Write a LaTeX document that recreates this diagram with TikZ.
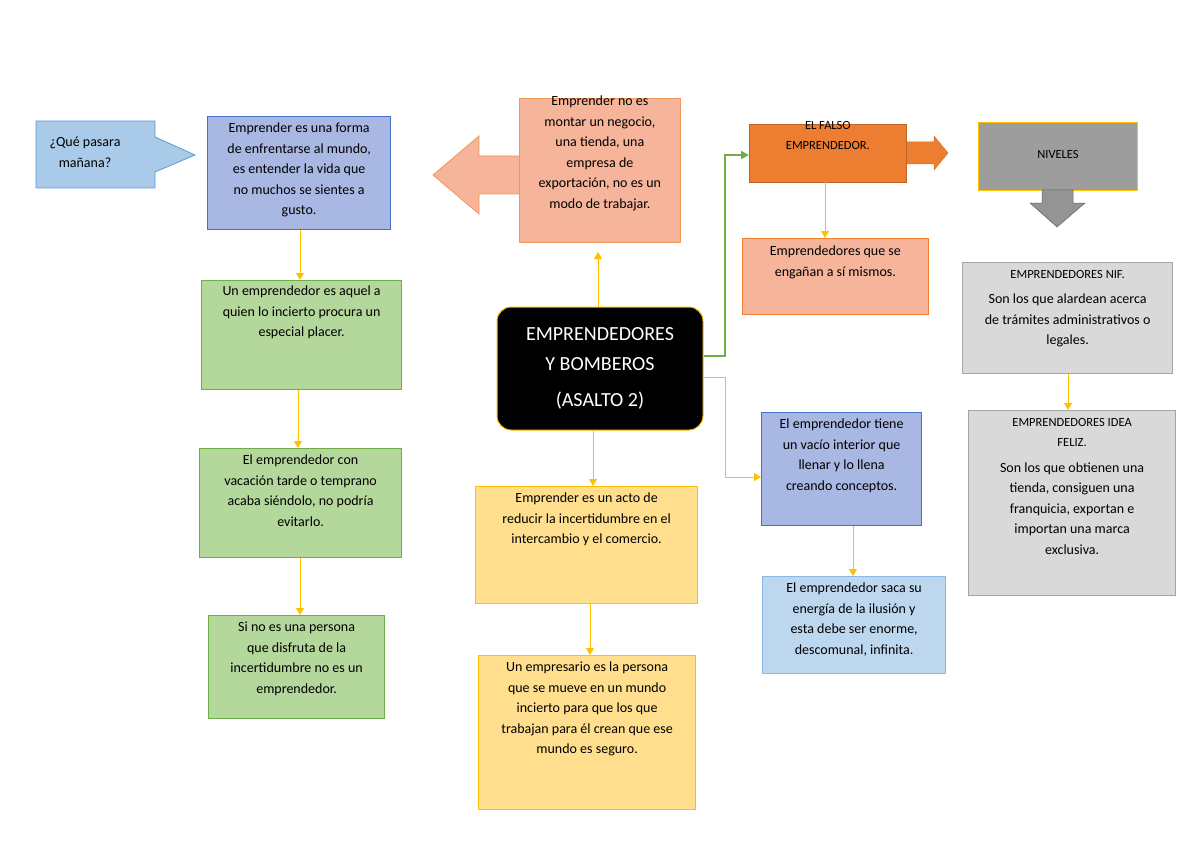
\documentclass[tikz,border=0pt]{standalone}
\usepackage{fontspec}
\setmainfont{Carlito}
\usetikzlibrary{arrows.meta}
\definecolor{ya}{HTML}{FFC000}
\definecolor{bluef}{HTML}{A9B8E2}\definecolor{bluee}{HTML}{4472C4}
\definecolor{greenf}{HTML}{B4D79C}\definecolor{greene}{HTML}{70AD47}
\definecolor{salf}{HTML}{F6B49A}\definecolor{sale}{HTML}{ED7D31}
\definecolor{yelf}{HTML}{FFDF8E}
\definecolor{lbf}{HTML}{BDD7EE}\definecolor{lbe}{HTML}{5B9BD5}
\definecolor{grf}{HTML}{D9D9D9}\definecolor{gre}{HTML}{A5A5A5}
\begin{document}
\begin{tikzpicture}[x=1pt,y=-1pt,
 txt/.style={align=center,font=\fontsize{14}{20.5}\selectfont,anchor=north,inner sep=0pt},
 box/.style={draw,line width=1.2pt,anchor=north west,inner sep=0pt},
 yar/.style={draw=ya,-{Triangle[length=7pt,width=8pt]},line width=1pt}]
\useasboundingbox (0,0) rectangle (1200,848);
% question arrow
\filldraw[fill=lbf!80!lbe,draw=lbe,line width=0.8pt] (36,121)--(155,121)--(155,137)--(195,155)--(155,172)--(155,188)--(36,188)--cycle;
\node[txt] (q) at (85,137) {¿Qué pasara\\mañana?};
% blue box 1
\node[box,fill=bluef,draw=bluee,minimum width=183pt,minimum height=113pt] (b1) at (207,116) {};
\node[txt] (t1) at (b1.north |- 0,123) {Emprender es una forma\\de enfrentarse al mundo,\\es entender la vida que\\no muchos se sientes a\\gusto.};
\node[box,fill=greenf,draw=greene,minimum width=200pt,minimum height=109pt] (g1) at (201,280) {};
\node[txt] at (g1.north |- 0,286) {Un emprendedor es aquel a\\quien lo incierto procura un\\especial placer.};
\node[box,fill=greenf,draw=greene,minimum width=202pt,minimum height=109pt] (g2) at (199,448) {};
\node[txt] at (g2.north |- 0,455) {El emprendedor con\\vacación tarde o temprano\\acaba siéndolo, no podría\\evitarlo.};
\node[box,fill=greenf,draw=greene,minimum width=176pt,minimum height=103pt] (g3) at (208,615) {};
\node[txt] at (g3.north |- 0,622) {Si no es una persona\\que disfruta de la\\incertidumbre no es un\\emprendedor.};
\draw[yar] (b1.south -| 300,0) -- (g1.north -| 300,0);
\draw[yar] (g1.south -| 298,0) -- (g2.north -| 298,0);
\draw[yar] (g2.south -| 300,0) -- (g3.north -| 300,0);
% salmon left arrow
\filldraw[fill=salf,draw=sale!80,line width=0.8pt] (530,156)--(479,156)--(479,136)--(433,175)--(479,214)--(479,194)--(530,194)--cycle;
\node[box,fill=salf,draw=sale!80,line width=0.8pt,minimum width=161pt,minimum height=144pt] (s1) at (519,98) {};
\node[txt] at (s1.north |- 0,96) {Emprender no es\\montar un negocio,\\una tienda, una\\empresa de\\exportación, no es un\\modo de trabajar.};
% center
\node[align=center,font=\fontsize{20}{30}\selectfont,text=white,fill=black,draw=ya,line width=1pt,rounded corners=14pt,minimum width=206pt,minimum height=123pt] (c) at (600,368.5) {EMPRENDEDORES\\Y BOMBEROS\\[6pt](ASALTO 2)};
\draw[yar] (c.north -| 598,0) -- (598,252);
% falso
\filldraw[fill=sale,draw=sale!90!black,line width=0.5pt] (900,142)--(934,142)--(934,136)--(948,153)--(934,170)--(934,164)--(900,164)--cycle;
\node[box,fill=sale,draw=sale!80!black,line width=0.8pt,minimum width=157pt,minimum height=58pt] (f) at (749,124) {};
\node[txt,font=\fontsize{12.5}{20}\selectfont] at (f.north |- 0,121) {EL FALSO\\EMPRENDEDOR.};
\draw[draw=greene,line width=2pt,-{Triangle[length=8pt,width=8pt]}] (c.east |- 0,356) -- (725,356) -- (725,155) -- (f.west |- 0,155);
\node[box,fill=salf,draw=sale,line width=0.8pt,minimum width=186pt,minimum height=76pt] (s2) at (742,238) {};
\node[txt] at (s2.north |- 0,246) {Emprendedores que se\\engañan a sí mismos.};
\draw[yar] (825,182) -- (s2.north -| 825,0);
% blue 2
\node[box,fill=bluef,draw=bluee,minimum width=160pt,minimum height=113pt] (b2) at (761,412) {};
\node[txt] at (b2.north |- 0,419) {El emprendedor tiene\\un vacío interior que\\llenar y lo llena\\creando conceptos.};
\draw[yar] (c.east |- 0,377) -- (725,377) -- (725,477) -- (b2.west |- 0,477);
\node[box,fill=lbf,draw=lbe!70,minimum width=183pt,minimum height=97pt] (lb) at (762,576) {};
\node[txt] at (lb.north |- 0,583) {El emprendedor saca su\\energía de la ilusión y\\esta debe ser enorme,\\descomunal, infinita.};
\draw[yar] (b2.south -| 853,0) -- (lb.north -| 853,0);
% yellow
\node[box,fill=yelf,draw=ya,minimum width=222pt,minimum height=117pt] (y1) at (475,486) {};
\node[txt] at (y1.north |- 0,493) {Emprender es un acto de\\reducir la incertidumbre en el\\intercambio y el comercio.};
\draw[yar] (c.south -| 593,0) -- (y1.north -| 593,0);
\node[box,fill=yelf,draw=ya,minimum width=217pt,minimum height=154pt] (y2) at (478,655) {};
\node[txt] at (y2.north |- 0,662) {Un empresario es la persona\\que se mueve en un mundo\\incierto para que los que\\trabajan para él crean que ese\\mundo es seguro.};
\draw[yar] (y1.south -| 590,0) -- (y2.north -| 590,0);
% niveles
\node[box,fill=gre!95!black,draw=ya,line width=1pt,minimum width=159pt,minimum height=68pt] (n) at (978,122) {};
\node[txt,font=\fontsize{12.5}{20}\selectfont] at (n.north |- 0,150) {NIVELES};
\filldraw[fill=gre!90!black,draw=gre!60!black,line width=0.5pt] (1042,190)--(1073,190)--(1073,203)--(1085,203)--(1057,227)--(1030,203)--(1042,203)--cycle;
\node[box,fill=grf,draw=gre,minimum width=210pt,minimum height=111pt] (g4) at (962,262) {};
\node[txt] at (g4.north |- 0,270) {{\fontsize{12.5}{20}\selectfont EMPRENDEDORES NIF.}\\[5pt]Son los que alardean acerca\\de trámites administrativos o\\legales.};
\node[box,fill=grf,draw=gre,minimum width=207pt,minimum height=185pt] (g5) at (968,410) {};
\node[txt] at (g5.north |- 0,418) {{\fontsize{12.5}{20}\selectfont EMPRENDEDORES IDEA}\\{\fontsize{12.5}{20}\selectfont FELIZ.}\\[5pt]Son los que obtienen una\\tienda, consiguen una\\franquicia, exportan e\\importan una marca\\exclusiva.};
\draw[yar] (g4.south -| 1068,0) -- (g5.north -| 1068,0);
\end{tikzpicture}
\end{document}
